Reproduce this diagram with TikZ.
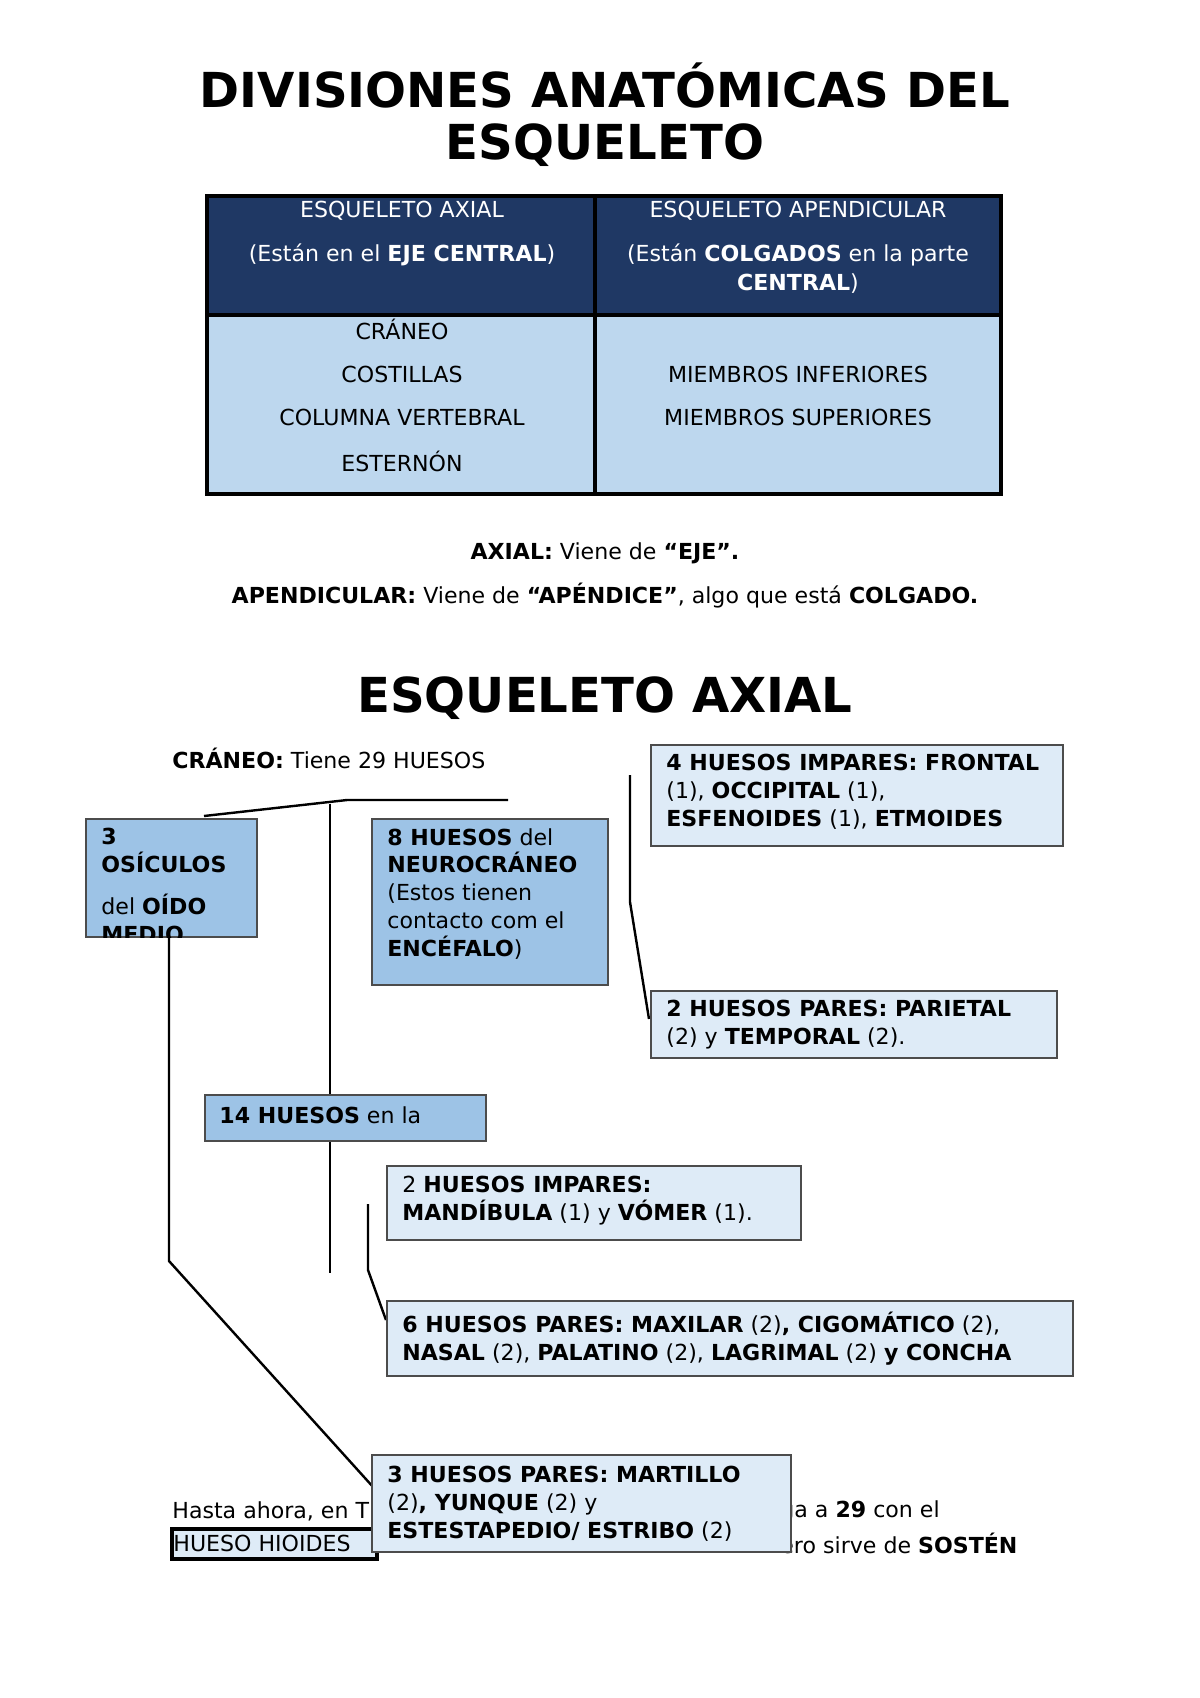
\documentclass[tikz,border=0pt]{standalone}
\usepackage{fontspec}
\setmainfont{DejaVu Sans}
\usepackage{tikz}
\definecolor{navy}{HTML}{1F3864}
\definecolor{tabblue}{HTML}{BDD7EE}
\definecolor{midblue}{HTML}{9DC3E6}
\definecolor{paleblue}{HTML}{DEEBF7}
\newcommand{\body}{\fontsize{11}{13.8}\selectfont}
\tikzset{
	darkbox/.style={draw=black!70, fill=midblue, line width=0.8pt},
	lightbox/.style={draw=black!70, fill=paleblue, line width=0.8pt},
	txt/.style={anchor=north west, inner sep=0pt, align=left, font=\body},
	ctxt/.style={inner sep=0pt, font=\body},
	link/.style={line width=1.2pt}
}

\begin{document}
\begin{tikzpicture}[x=0.0175cm,y=-0.0175cm]
	\useasboundingbox (0,0) rectangle (1200,1698);

	% titles
	\node[ctxt, font=\fontsize{24}{28}\selectfont\bfseries] (title1) at (605,85) {DIVISIONES ANATÓMICAS DEL};
	\node[ctxt, font=\fontsize{24}{28}\selectfont\bfseries] (title2) at (605,145) {ESQUELETO};

	% table
	\fill[navy] (207,196) rectangle (1001,315);
	\fill[tabblue] (207,315) rectangle (1001,494);
	\draw[line width=1.6pt] (207,196) rectangle (1001,494);
	\draw[line width=1.6pt] (207,315) -- (1001,315);
	\draw[line width=1.6pt] (595,196) -- (595,494);
	\node[ctxt, white] (h1a) at (402,211) {ESQUELETO AXIAL};
	\node[ctxt, white] (h1b) at (402,255) {(Están en el \textbf{EJE CENTRAL})};
	\node[ctxt, white] (h2a) at (798,211) {ESQUELETO APENDICULAR};
	\node[ctxt, white] (h2b) at (798,255) {(Están \textbf{COLGADOS} en la parte};
	\node[ctxt, white] (h2c) at (798,284) {\textbf{CENTRAL})};
	\node[ctxt] (craneo) at (402,329) {CRÁNEO};
	\node[ctxt] (costillas) at (402,374) {COSTILLAS};
	\node[ctxt] (columna) at (402,417) {COLUMNA VERTEBRAL};
	\node[ctxt] (esternon) at (402,461) {ESTERNÓN};
	\node[ctxt] (minf) at (798,374) {MIEMBROS INFERIORES};
	\node[ctxt] (msup) at (798,417) {MIEMBROS SUPERIORES};

	\node[ctxt] (axial) at (605,553) {\textbf{AXIAL:} Viene de \textbf{“EJE”.}};
	\node[ctxt] (apend) at (605,596) {\textbf{APENDICULAR:} Viene de \textbf{“APÉNDICE”}, algo que está \textbf{COLGADO.}};

	\node[ctxt, font=\fontsize{24}{28}\selectfont\bfseries] (title3) at (605,698) {ESQUELETO AXIAL};
	\node[txt, anchor=west] (tiene) at (172,758) {\textbf{CRÁNEO:} Tiene 29 HUESOS};

	% connectors
	\coordinate (t1) at (204,816);
	\coordinate (t2) at (347,800);
	\coordinate (t3) at (508,800);
	\coordinate (v1) at (330,804);
	\coordinate (v2) at (330,1273);
	\coordinate (n1) at (630,775);
	\coordinate (n2) at (630,902);
	\coordinate (n3) at (649,1019);
	\coordinate (f1) at (368,1204);
	\coordinate (f2) at (368,1270);
	\coordinate (f3) at (386,1320);
	\coordinate (o1) at (169,937);
	\coordinate (o2) at (169,1261);
	\coordinate (o3) at (374,1488);
	\draw[link] (t1) -- (t2) -- (t3);
	\draw[link] (v1) -- (v2);
	\draw[link] (n1) -- (n2) -- (n3);
	\draw[link] (f1) -- (f2) -- (f3);
	\draw[link] (o1) -- (o2) -- (o3);

	% hidden paragraph
	\node[txt, anchor=west] (hasta) at (172,1511) {Hasta ahora, en T};
	\node[txt, anchor=west] (hastab) at (780,1511) {ga a \textbf{29} con el};
	\node[txt, anchor=west] (sirve) at (780,1543) {ero sirve de \textbf{SOSTÉN}};
	\draw[fill=paleblue, line width=1.8pt] (172,1529) rectangle (377,1559);
	\node[txt, anchor=west] (hioides) at (173,1543) {HUESO HIOIDES};

	% boxes
	\draw[darkbox] (86,819) rectangle (257,937);
	\begin{scope}
		\clip (86,819) rectangle (257,937);
		\node[txt] (osiculos) at (101,828) {\textbf{3}\\\textbf{OSÍCULOS}\\[1.2ex] del \textbf{OÍDO}\\\textbf{MEDIO}};
	\end{scope}
	\draw[darkbox] (372,819) rectangle (608,985);
	\node[txt] (neuro) at (387,828) {\textbf{8 HUESOS} del\\\textbf{NEUROCRÁNEO}\\(Estos tienen\\contacto com el\\\textbf{ENCÉFALO})};
	\draw[lightbox] (651,745) rectangle (1063,846);
	\node[txt] (impares4) at (666,754) {\textbf{4 HUESOS IMPARES: FRONTAL}\\(1), \textbf{OCCIPITAL} (1),\\\textbf{ESFENOIDES} (1), \textbf{ETMOIDES}};
	\draw[lightbox] (651,991) rectangle (1057,1058);
	\node[txt] (pares2) at (666,1000) {\textbf{2 HUESOS PARES: PARIETAL}\\(2) y \textbf{TEMPORAL} (2).};
	\draw[darkbox] (205,1095) rectangle (486,1141);
	\node[txt, anchor=west] (cara) at (219,1115) {\textbf{14 HUESOS} en la};
	\draw[lightbox] (387,1166) rectangle (801,1240);
	\node[txt] (impares2) at (402,1176) {2 \textbf{HUESOS IMPARES:}\\\textbf{MANDÍBULA} (1) y \textbf{VÓMER} (1).};
	\draw[lightbox] (387,1301) rectangle (1073,1376);
	\node[txt] (pares6) at (402,1312) {\textbf{6 HUESOS PARES: MAXILAR} (2)\textbf{, CIGOMÁTICO} (2),\\\textbf{NASAL} (2), \textbf{PALATINO} (2), \textbf{LAGRIMAL} (2) \textbf{y CONCHA}};
	\draw[lightbox] (372,1455) rectangle (791,1552);
	\node[txt] (pares3) at (387,1466) {\textbf{3 HUESOS PARES: MARTILLO}\\(2)\textbf{, YUNQUE} (2) y\\\textbf{ESTESTAPEDIO/ ESTRIBO} (2)};
\end{tikzpicture}
\end{document}
